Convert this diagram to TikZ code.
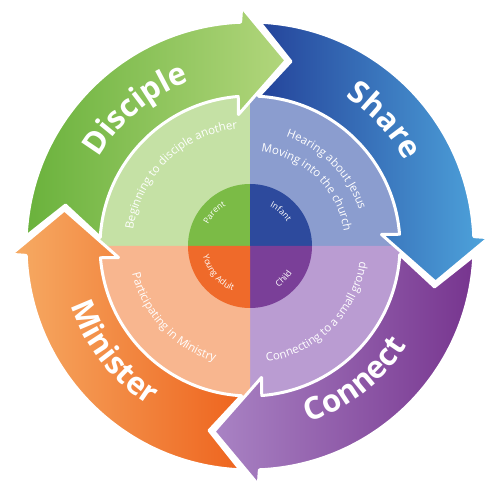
\documentclass[tikz,border=0pt]{standalone}
\usepackage{fontspec}
\setmainfont{Open Sans}
\usetikzlibrary{decorations.text}

\definecolor{discipleL}{HTML}{6AB23C}
\definecolor{discipleR}{HTML}{B2D67C}
\definecolor{shareL}{HTML}{24439A}
\definecolor{shareR}{HTML}{4EA4DC}
\definecolor{connectL}{HTML}{A983C4}
\definecolor{connectR}{HTML}{77358F}
\definecolor{ministerL}{HTML}{F6AB64}
\definecolor{ministerR}{HTML}{EE641E}

\definecolor{ringgreen}{HTML}{C5E1A5}
\definecolor{ringblue}{HTML}{8B9DCF}
\definecolor{ringpurple}{HTML}{BA9CD2}
\definecolor{ringorange}{HTML}{F8B68F}

\definecolor{coregreen}{HTML}{7BBB46}
\definecolor{coreblue}{HTML}{2D4A9D}
\definecolor{corepurple}{HTML}{7A3F98}
\definecolor{coreorange}{HTML}{EF6A2A}

\newcommand\bigword{\fontsize{31}{31}\selectfont\bfseries}
\newcommand\midword{\fontsize{11.5}{11.5}\selectfont}
\newcommand\smallword{\fontsize{8.5}{8.5}\selectfont}

\def\outr{224}
\def\ringr{150}
\def\corer{62}

\begin{document}
\begin{tikzpicture}[x=1pt,y=1pt]
    \tikzstyle{arrowband}=[draw=white, line width=3pt, line join=round]
    \tikzstyle{along}=[decorate, decoration={text along path, text align=center, text color=white}]

    \useasboundingbox[fill=white] (-250,-251) rectangle (247,246);

    %%% MIDDLE RING AND CORE
    \foreach \a/\c in {0/ringgreen, 270/ringblue, 180/ringpurple, 90/ringorange}
        \fill[\c] (0,0) -- ({90+\a}:\ringr) arc[start angle=90+\a, end angle=180+\a, radius=\ringr] -- cycle;
    \foreach \a/\c in {0/coregreen, 270/coreblue, 180/corepurple, 90/coreorange}
        \fill[\c] (0,0) -- ({90+\a}:\corer) arc[start angle=90+\a, end angle=180+\a, radius=\corer] -- cycle;

    %%% OUTER ARROWS
    \foreach \a/\cl/\cr in {0/discipleL/discipleR, 270/shareL/shareR, 180/connectL/connectR, 90/ministerL/ministerR}
        \draw[arrowband, left color=\cl, right color=\cr]
            ({177.5+\a}:\outr) arc[start angle=177.5+\a, end angle=92.4+\a, radius=\outr]
            -- ({92+\a}:239) -- ({79+\a}:189) -- ({95+\a}:132) -- ({94.5+\a}:\ringr)
            arc[start angle=94.5+\a, end angle=176.7+\a, radius=\ringr]
            -- ({167.5+\a}:189) -- cycle;

    %%% TITLES
    \path[along, decoration={text={|\bigword|Disciple}}] (175:175) arc[start angle=175, end angle=85, radius=175];
    \path[along, decoration={text={|\bigword|Share}}] (88:177) arc[start angle=88, end angle=-2, radius=177];
    \path[along, decoration={text={|\bigword|Connect}}] (263:186) arc[start angle=263, end angle=353, radius=186];
    \path[along, decoration={text={|\bigword|Minister}}] (173:189) arc[start angle=173, end angle=263, radius=189];

    %%% RING TEXT
    \path[along, decoration={text={|\midword|Beginning to disciple another}}] (194:118) arc[start angle=194, end angle=74, radius=118];
    \path[along, decoration={text={|\midword|Hearing about Jesus}}] (105:115) arc[start angle=105, end angle=-15, radius=115];
    \path[along, decoration={text={|\midword|Moving into the church}}] (106:95) arc[start angle=106, end angle=-14, radius=95];
    \path[along, decoration={text={|\midword|Connecting to a small group}}] (255:117) arc[start angle=255, end angle=375, radius=117];
    \path[along, decoration={text={|\midword|Participating in Ministry}}] (163:121) arc[start angle=163, end angle=283, radius=121];

    %%% CORE TEXT
    \path[along, decoration={text={|\smallword|Parent}}] (197:47) arc[start angle=197, end angle=77, radius=47];
    \path[along, decoration={text={|\smallword|Infant}}] (108:44) arc[start angle=108, end angle=-12, radius=44];
    \path[along, decoration={text={|\smallword|Child}}] (256:50) arc[start angle=256, end angle=376, radius=50];
    \path[along, decoration={text={|\smallword|Young Adult}}] (160:48) arc[start angle=160, end angle=280, radius=48];
\end{tikzpicture}
\end{document}
